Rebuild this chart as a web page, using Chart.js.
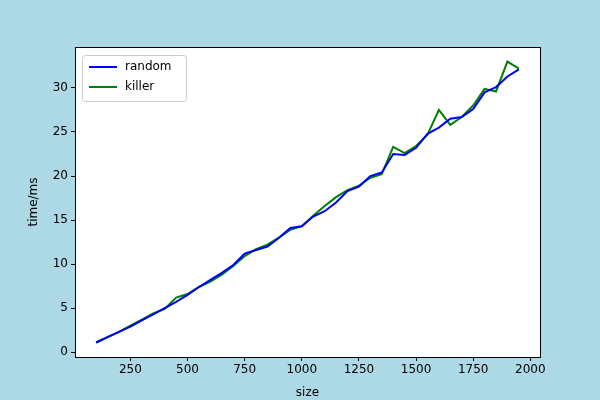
<!DOCTYPE html>
<html><head><meta charset="utf-8">
<script src="https://cdn.jsdelivr.net/npm/chart.js@4"></script>
<style>html,body{margin:0;background:#add8e6}#c{display:block}</style>
</head><body>
<div style="width:600px;height:400px"><canvas id="c"></canvas></div>
<script>
const sizes = [100,150,200,250,300,350,400,450,500,550,600,650,700,750,800,850,900,950,1000,1050,1100,1150,1200,1250,1300,1350,1400,1450,1500,1550,1600,1650,1700,1750,1800,1850,1900,1950];
const randomTimes = [1.1,1.7,2.3,2.9,3.6,4.3,5.0,5.7,6.5,7.4,8.2,9.0,9.9,11.2,11.6,12.0,13.0,14.1,14.3,15.4,16.0,17.0,18.3,18.8,20.0,20.4,22.5,22.4,23.2,24.8,25.5,26.5,26.7,27.6,29.5,30.1,31.3,32.1];
const killerTimes = [1.1,1.7,2.3,3.0,3.7,4.4,4.9,6.2,6.6,7.4,8.0,8.8,9.8,10.9,11.7,12.2,13.0,13.9,14.3,15.5,16.6,17.6,18.4,18.9,19.8,20.2,23.3,22.6,23.4,24.7,27.5,25.8,26.7,28.0,29.9,29.6,33.0,32.2];
const xTicks = [250,500,750,1000,1250,1500,1750,2000];
const yTicks = [0,5,10,15,20,25,30];

const font = { family: 'DejaVu Sans', size: 12 };

const bg = {
  id: 'bg',
  beforeDraw(chart) {
    const c = chart.ctx;
    c.save(); c.fillStyle = '#add8e6'; c.fillRect(0, 0, chart.width, chart.height);
    const a = chart.chartArea;
    c.fillStyle = '#fff'; c.fillRect(a.left, a.top, a.right - a.left, a.bottom - a.top);
    c.restore();
  },
  afterDraw(chart) {
    const c = chart.ctx, a = chart.chartArea;
    c.save();
    c.strokeStyle = '#000'; c.lineWidth = 1;
    c.strokeRect(a.left + 0.5, a.top + 0.5, a.right - a.left, a.bottom - a.top);
    const x = a.left + 7, y = a.top + 8, w = 104, h = 46;
    c.fillStyle = 'rgba(255,255,255,0.8)'; c.strokeStyle = '#ccc';
    c.beginPath(); c.roundRect(x + 0.5, y + 0.5, w, h, 3); c.fill(); c.stroke();
    c.font = '12px DejaVu Sans'; c.textBaseline = 'middle';
    chart.data.datasets.forEach((d, i) => {
      const ly = y + 12 + i * 20;
      c.strokeStyle = d.borderColor; c.lineWidth = 2;
      c.beginPath(); c.moveTo(x + 7, ly); c.lineTo(x + 35, ly); c.stroke();
      c.fillStyle = '#000'; c.fillText(d.label, x + 43, ly);
    });
    c.restore();
  }
};

new Chart(document.getElementById('c'), {
  type: 'line',
  data: {
    datasets: [
      { label: 'random', data: sizes.map((s, i) => ({ x: s, y: randomTimes[i] })), borderColor: '#0000ff', borderWidth: 2, pointRadius: 0, tension: 0 },
      { label: 'killer', data: sizes.map((s, i) => ({ x: s, y: killerTimes[i] })), borderColor: '#008000', borderWidth: 2, pointRadius: 0, tension: 0 },
    ],
  },
  options: {
    responsive: true, maintainAspectRatio: false, animation: false,
    layout: { padding: { top: 47, right: 60, left: 27, bottom: 0 } },
    plugins: { legend: { display: false }, tooltip: { enabled: false } },
    scales: {
      x: {
        type: 'linear', min: 7.5, max: 2042.5,
        afterBuildTicks: s => { s.ticks = xTicks.map(v => ({ value: v })); },
        afterFit: s => { s.height = 43; },
        grid: { drawOnChartArea: false, tickLength: 4, color: '#000' },
        border: { display: false },
        ticks: { color: '#000', font, maxRotation: 0, padding: 2, callback: v => String(v) },
        title: { display: true, text: 'size', color: '#000', font, padding: { top: 0, bottom: 0 } },
      },
      y: {
        min: -0.55, max: 34.65,
        afterBuildTicks: s => { s.ticks = yTicks.map(v => ({ value: v })); },
        afterFit: s => { s.width = 48; },
        grid: { drawOnChartArea: false, tickLength: 4, color: '#000' },
        border: { display: false },
        ticks: { color: '#000', font, padding: 3 },
        title: { display: true, text: 'time/ms', color: '#000', font, padding: { top: 0, bottom: 0 } },
      },
    },
  },
  plugins: [bg],
});
</script>
</body></html>
